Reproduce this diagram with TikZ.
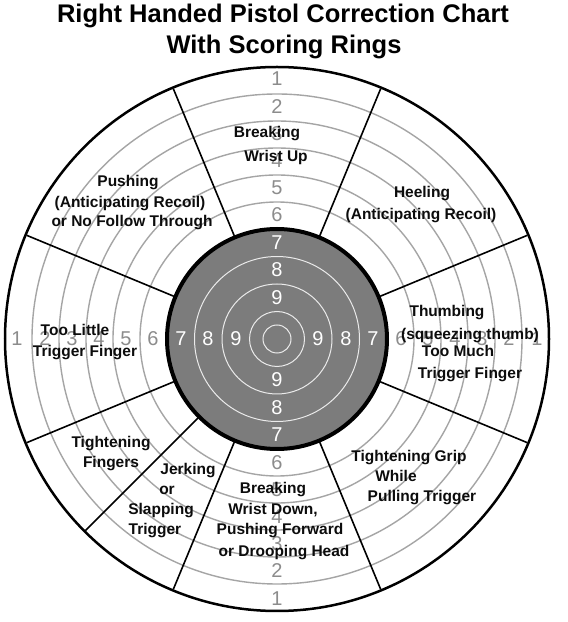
\documentclass[tikz,border=0pt]{standalone}
\usepackage{fontspec}
\setmainfont{Liberation Sans}
\usetikzlibrary{calc}
\definecolor{discgray}{RGB}{124,124,124}
\definecolor{numgray}{RGB}{140,140,140}
\definecolor{ringgray}{RGB}{165,165,165}
\definecolor{inkblack}{RGB}{12,12,12}
\tikzset{
  lbl/.style={font=\fontsize{15.5}{18}\selectfont\bfseries, anchor=base, inner sep=0pt, text=inkblack},
  ttl/.style={font=\fontsize{25.5}{30}\selectfont\bfseries, anchor=base, inner sep=0pt, text=black},
  wnum/.style={font=\fontsize{20}{24}\selectfont, text=numgray, inner sep=0pt},
  gnum/.style={font=\fontsize{20}{24}\selectfont, text=white, inner sep=0pt},
  ringline/.style={draw=ringgray, line width=1.4pt},
  innerring/.style={draw=white!92!black, line width=1pt},
  divider/.style={draw=black, line width=1.6pt}
}
\begin{document}
\begin{tikzpicture}[x=1pt,y=1pt]
\useasboundingbox (0,0) rectangle (568,622);
\fill[white] (0,0) rectangle (568,622);
\coordinate (C) at (277,283);
% scoring rings on white
\foreach \r in {137,164,191,218,245} \draw[ringline] (C) circle[radius=\r pt];
% grey disc
\fill[discgray] (C) circle[radius=110pt];
\foreach \r in {82.5,55,27.5,14} \draw[innerring] (C) circle[radius=\r pt];
\draw[line width=4pt] (C) circle[radius=110pt];
\draw[line width=2.5pt] (C) circle[radius=272pt];
% sector dividers
\foreach \a in {22.5,67.5,112.5,157.5,202.5,225,247.5,292.5,337.5}
  \draw[divider] ($(C)+(\a:111pt)$) -- ($(C)+(\a:271pt)$);
% numbers on white
\foreach \n/\r in {1/260,2/232,3/205,4/178,5/151,6/124}
  \foreach \a in {0,90,180,270}
    \node[wnum] (w\n-\a) at ($(C)+(\a:\r pt)$) {\n};
% numbers on grey
\foreach \n/\r in {7/96,8/69,9/41}
  \foreach \a in {0,90,180,270}
    \node[gnum] (g\n-\a) at ($(C)+(\a:\r pt)$) {\n};
% title
\node[ttl] (t1) at (283,599) {Right Handed Pistol Correction Chart};
\node[ttl] (t2) at (284,568) {With Scoring Rings};
% labels
\node[lbl] (bu1) at (267,484) {Breaking};
\node[lbl] (bu2) at (276,460) {Wrist Up};
\node[lbl] (pu1) at (128,435) {Pushing};
\node[lbl] (pu2) at (130,414) {(Anticipating Recoil)};
\node[lbl] (pu3) at (132,395) {or No Follow Through};
\node[lbl] (he1) at (422,424) {Heeling};
\node[lbl] (he2) at (421,402) {(Anticipating Recoil)};
\node[lbl] (tl1) at (75,286) {Too Little};
\node[lbl] (tl2) at (85,265) {Trigger Finger};
\node[lbl] (th1) at (447,305) {Thumbing};
\node[lbl] (th2) at (470,282) {(squeezing thumb)};
\node[lbl] (th3) at (458,265) {Too Much};
\node[lbl] (th4) at (470,243) {Trigger Finger};
\node[lbl] (tf1) at (111,174) {Tightening};
\node[lbl] (tf2) at (111,154) {Fingers};
\node[lbl] (je1) at (188,147) {Jerking};
\node[lbl] (je2) at (167,127) {or};
\node[lbl] (je3) at (161,107) {Slapping};
\node[lbl] (je4) at (155,87) {Trigger};
\node[lbl] (tg1) at (409,160) {Tightening Grip};
\node[lbl] (tg2) at (396,140) {While};
\node[lbl] (tg3) at (422,120) {Pulling Trigger};
\node[lbl] (bd1) at (273,128) {Breaking};
\node[lbl] (bd2) at (273,107) {Wrist Down,};
\node[lbl] (bd3) at (280,87) {Pushing Forward};
\node[lbl] (bd4) at (284,65) {or Drooping Head};
\end{tikzpicture}
\end{document}
